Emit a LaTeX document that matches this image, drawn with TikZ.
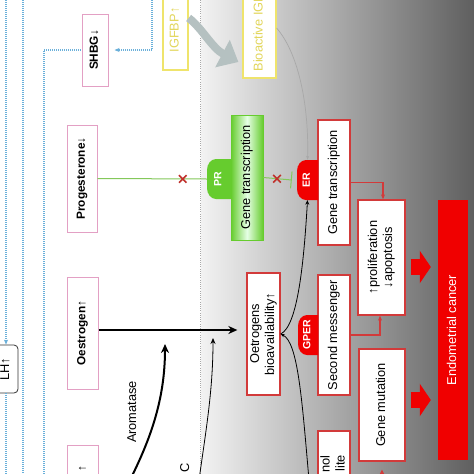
\documentclass[tikz,border=0pt]{standalone}
\usepackage{fontspec}
\setmainfont{Liberation Sans}
\usepackage{graphicx}
\usetikzlibrary{arrows.meta,calc,shapes.misc}
\definecolor{pinkb}{HTML}{E3A0C4}
\definecolor{bluedot}{HTML}{6AB0DA}
\definecolor{yelb}{HTML}{EFE46C}
\definecolor{yelt}{HTML}{E2D65A}
\definecolor{redb}{HTML}{D23A3A}
\definecolor{redf}{HTML}{F00000}
\definecolor{greenf}{HTML}{66CC2E}
\definecolor{greenl}{HTML}{84C85A}
\definecolor{grayarr}{HTML}{B5C1C1}
\definecolor{grayd}{HTML}{A8A8A8}
\definecolor{xred}{HTML}{C0302A}
\newcommand{\rt}[1]{\rotatebox{90}{\begin{tabular}{@{}c@{}}#1\end{tabular}}}
\newcommand{\fsr}{\fontsize{12.8}{15}\selectfont}
\newcommand{\fsb}{\fontsize{11.8}{14}\selectfont\bfseries}
\newcommand{\fsc}{\fontsize{10.5}{12}\selectfont\bfseries}
\newcommand{\capfill}[5]{\fill[#1] (#2,#3) -- ({#4+9},#3) .. controls ({#4+4},#3) and (#4,{#3+5}) .. (#4,{#3+11}) -- (#4,{#5-11}) .. controls (#4,{#5-5}) and ({#4+4},#5) .. ({#4+9},#5) -- (#2,#5) -- cycle;}
\tikzset{
 pbox/.style={draw=pinkb, line width=1pt, fill=white, inner sep=0pt, font=\fsb},
 ybox/.style={draw=yelb, line width=1.2pt, fill=white, inner sep=0pt, text=yelt, font=\fsr},
 rbox/.style={draw=redb, line width=1.3pt, fill=white, inner sep=0pt, font=\fsr},
 gbox/.style={draw=greenf, line width=0.8pt, left color=greenf, right color=greenf, middle color=green!10!white, inner sep=0pt, font=\fsr},
 lbox/.style={draw=black!80, line width=0.8pt, rounded corners=4pt, fill=white, inner sep=0pt, font=\fsr},
 cbox/.style={fill=redf, inner sep=0pt, text=white, font=\fsr},
 capt/.style={inner sep=0pt, text=white, font=\fsc},
 bdot/.style={bluedot, line width=1.1pt, dash pattern=on 1pt off 1pt},
 grdot/.style={grayd, line width=0.7pt, dash pattern=on 1pt off 1.2pt},
 gline/.style={greenl, line width=1pt},
 rline/.style={redb, line width=1.1pt},
 bline/.style={black, line width=0.8pt},
 xmark/.style={cross out, draw=xred, line width=1.6pt, minimum size=6pt, inner sep=0pt},
 fatred/.style={redf, line width=16pt, -{Triangle[length=11pt,width=32pt]}},
}
\begin{document}
\begin{tikzpicture}[x=1pt,y=-1pt]
\useasboundingbox (0,0) rectangle (474,474);
\clip (0,0) rectangle (474,474);
\fill[white] (0,0) rectangle (474,474);
\shade[left color=black!5, right color=black!63] (201,-1) rectangle (475,475);

% free ends
\coordinate (d1t) at (6,-2);
\coordinate (d1b) at (6,476);
\coordinate (d2t) at (23,-2);
\coordinate (d2b) at (23,476);
\coordinate (d3b) at (44,476);
\coordinate (d4t) at (152,-2);
\coordinate (g1t) at (200,-2);
\coordinate (g1b) at (200,476);
\coordinate (aroS) at (130,480);
\coordinate (aroE) at (165,344);
\coordinate (thS) at (199,480);
\coordinate (thE) at (213,338);
\coordinate (brS) at (309,480);
\coordinate (rb) at (382,500);

% boxes
\node[pbox, minimum width=26pt, minimum height=72pt] (shbg) at (95,50) {\rt{SHBG↓}};
\node[pbox, minimum width=30pt, minimum height=107pt] (prog) at (82,178.5) {\rt{Progesterone↓}};
\node[pbox, minimum width=31pt, minimum height=112pt] (oest) at (82.5,333) {\rt{Oestrogen↑}};
\node[pbox, minimum width=31pt, minimum height=112pt] (andr) at (82.5,501) {};
\node[inner sep=0pt, anchor=north, font=\fsb] (andt) at (82.5,465) {\rotatebox{90}{↑}};
\node[lbox, minimum width=24pt, minimum height=48pt] (lh) at (6,369) {\rt{LH↑}};
\node[ybox, minimum width=25pt, minimum height=80pt] (igf) at (175.5,30) {\rt{IGFBP↑}};
\node[ybox, minimum width=33pt, minimum height=90pt] (bio) at (259.5,33) {\rt{Bioactive IGF}};

% dotted lines
\draw[bdot, -{Stealth[length=5pt,width=4pt]}] (d1t) -- (lh.north);
\draw[bdot] (lh.south) -- (d1b);
\draw[bdot] (d2t) -- (d2b);
\draw[bdot] (d3b) |- (shbg.west);
\draw[bdot, -{Stealth[length=5pt,width=4pt]}] (d4t) |- ($(shbg.east)+(6,0)$);
\draw[grdot] (g1t) -- (g1b);

\node[gbox, minimum width=32pt, minimum height=125pt] (gr) at (247,177.5) {\rt{Gene transcription}};
\node[rbox, minimum width=32pt, minimum height=125pt] (gt) at (334,182.5) {\rt{Gene transcription}};
\node[rbox, minimum width=33pt, minimum height=122pt] (oeb) at (263.5,334) {\rt{Oetrogens\\bioavailability↑}};
\node[rbox, minimum width=32pt, minimum height=120pt] (sm) at (334,335) {\rt{Second messenger}};
\node[rbox, minimum width=47pt, minimum height=115pt] (prolif) at (381.5,257.5) {\rt{↑proliferation\\↓apoptosis}};
\node[rbox, minimum width=46pt, minimum height=112pt] (gm) at (382,405) {\rt{Gene mutation}};
\node[rbox, minimum width=32pt, minimum height=110pt] (cat) at (334,486) {};
\node[inner sep=0pt, anchor=north, font=\fsr] (catt) at (334,455) {\rotatebox{90}{\begin{tabular}{@{}r@{}}nol\\lite\end{tabular}}};
\node[cbox, minimum width=30pt, minimum height=260pt] (cancer) at (453,330) {\rt{Endometrial cancer}};

% caps
\capfill{greenf}{231}{159}{207}{199}
\node[capt, minimum width=24pt, minimum height=40pt] (pr) at (219,179) {\rt{PR}};
\capfill{redf}{318}{160}{297}{200}
\node[capt, minimum width=21pt, minimum height=40pt] (er) at (307.5,180) {\rt{ER}};
\capfill{redf}{318}{315}{298}{355}
\node[capt, minimum width=20pt, minimum height=40pt] (gper) at (308,335) {\rt{GPER}};

% grey arrows
\draw[grayarr, line width=8pt, -{Triangle[length=18pt,width=30pt]}] ($(igf.east)+(0,-12)$) .. controls (202,28) and (212,48) .. ($(bio.west)+(-4,29)$);
\draw[grayd, line width=0.7pt, -{Stealth[length=4pt,width=3pt]}] ($(bio.east)+(0,-5)$) .. controls (300,55) and (309,110) .. (er.north);

% green lines
\draw[gline] (prog.east) -- (pr.west) node[pos=0.78, xmark] (x1) {};
\draw[gline, -{Bar[width=17pt]}] (gr.east) -- ($(er.west)+(-5,0)$) node[pos=0.48, xmark] (x2) {};

% black arrows
\draw[black, line width=2pt, -{Stealth[length=9pt,width=8pt]}] ($(oest.east)+(0,-3)$) -- ($(oeb.west |- oest.east)+(-9,-3)$);
\draw[black, line width=2pt, -{Stealth[length=9pt,width=8pt]}] (aroS) .. controls (150,440) and (165,400) .. (aroE);
\node[inner sep=0pt, font=\fsr] (arol) at (133,412) {\rt{Aromatase}};
\draw[bline, -{Stealth[length=6pt,width=5pt]}] (thS) .. controls (206,430) and (213,390) .. (thE);
\node[inner sep=0pt, font=\fsr] (cl) at (186,468) {\rt{C}};
\draw[bline, -{Stealth[length=4pt,width=3.5pt]}] (brS) .. controls (302,400) and (298,342) .. (oeb.east);
\draw[bline, -{Stealth[length=4.5pt,width=4pt]}] (oeb.east) .. controls (298,326) and (304,260) .. (er.south);

% red connectors
\draw[rline, -{Stealth[length=5pt,width=4pt]}] (gt.east) -| ($(prolif.north)+(1.5,0)$);
\draw[rline, -{Stealth[length=5pt,width=4pt]}] (sm.east) -| ($(prolif.south)+(-1.5,0)$);
\draw[rline, -{Stealth[length=6pt,width=6pt]}] (rb) -- ($(gm.south)+(0,8)$);
\draw[fatred] ($(prolif.east)+(5,9.5)$) -- ($(cancer.west |- prolif.east)+(-7,9.5)$);
\draw[fatred] ($(gm.east)+(5,-5)$) -- ($(cancer.west |- gm.east)+(-7,-5)$);
\end{tikzpicture}
\end{document}
